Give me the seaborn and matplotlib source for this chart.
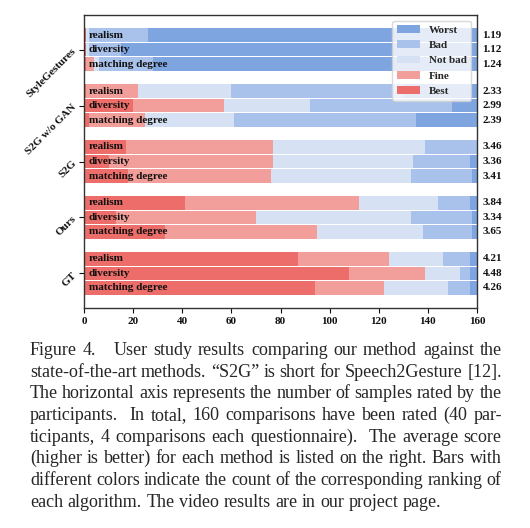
import numpy as np
import pandas as pd
import matplotlib
matplotlib.use('Agg')
import matplotlib.pyplot as plt
import matplotlib.transforms as mtransforms
import seaborn as sns

# Data (counts out of 160 comparisons)
methods = ['StyleGestures', 'S2G w/o GAN', 'S2G', 'Ours', 'GT']
aspects = ['realism', 'diversity', 'matching degree']
levels = ['Worst', 'Bad', 'Not bad', 'Fine', 'Best']

best    = [1, 1, 1,   1, 20, 2,   17, 10, 18,   41, 13, 33,   87, 108, 94]
fine    = [0, 0, 3,   21, 37, 23,  60, 67, 58,   71, 57, 62,   37, 31, 28]
not_bad = [1, 1, 2,   38, 35, 36,  62, 57, 57,   32, 63, 43,   22, 14, 26]
bad     = [24, 13, 22, 70, 58, 74, 21, 23, 25,   13, 25, 20,   11, 4, 9]
worst   = [134, 145, 132, 30, 10, 25, 0, 3, 2,   3, 2, 2,      3, 3, 3]
scores  = ['1.19', '1.12', '1.24', '2.33', '2.99', '2.39', '3.46', '3.36', '3.41',
           '3.84', '3.34', '3.65', '4.21', '4.48', '4.26']

colors = {'Worst': '#7FA5E0', 'Bad': '#A9C2EB', 'Not bad': '#D6E2F4',
          'Fine': '#F29E9A', 'Best': '#EC6D69'}

caption = [
    'Figure 4.   User study results comparing our method against the',
    'state-of-the-art methods. \u201cS2G\u201d is short for Speech2Gesture [12].',
    'The horizontal axis represents the number of samples rated by the',
    'participants.  In total, 160 comparisons have been rated (40 par-',
    'ticipants, 4 comparisons each questionnaire).  The average score',
    '(higher is better) for each method is listed on the right. Bars with',
    'different colors indicate the count of the corresponding ranking of',
    'each algorithm. The video results are in our project page.',
]

sns.set_style('ticks')
plt.rcParams['font.family'] = ['Liberation Serif', 'DejaVu Serif']

# long table: one row per bar, cumulative widths from the left
group_step = 3.86
rows = []
for g, m in enumerate(methods):
    for i, a in enumerate(aspects):
        k = g * 3 + i
        rows.append({'method': m, 'aspect': a, 'pos': g * group_step + i,
                     'Best': best[k], 'Fine': fine[k], 'Not bad': not_bad[k],
                     'Bad': bad[k], 'Worst': worst[k], 'score': scores[k]})
df = pd.DataFrame(rows)
df['cum_Best'] = df['Best']
df['cum_Fine'] = df['cum_Best'] + df['Fine']
df['cum_Not bad'] = df['cum_Fine'] + df['Not bad']
df['cum_Bad'] = df['cum_Not bad'] + df['Bad']
df['cum_Worst'] = df['cum_Bad'] + df['Worst']

fig = plt.figure(figsize=(5.3, 5.28), dpi=100)
ax = fig.add_axes([84 / 530, 1 - 308 / 528, 393 / 530, 293 / 528])

# stacked bars: draw widest cumulative first, narrower ones on top
for lev in levels:
    sns.barplot(data=df, x='cum_' + lev, y='pos', orient='h', native_scale=True,
                color=colors[lev], saturation=1, width=0.93, errorbar=None,
                label=lev, ax=ax, linewidth=0)

bold = dict(fontweight='bold', fontsize=8)
for _, r in df.iterrows():
    ax.text(2, r['pos'], r['aspect'], va='center', ha='left', color='#111111', **bold)

trans = mtransforms.blended_transform_factory(ax.transAxes, ax.transData)
for _, r in df.iterrows():
    ax.text(1.014, r['pos'], r['score'], va='center', ha='left', transform=trans,
            color='#111111', **bold)

ax.set_xlim(0, 160)
ax.set_xticks(np.arange(0, 161, 20))
top = df['pos'].max()
ax.set_ylim(top + 1.38, -1.38)
ax.set_yticks([g * group_step + 1 for g in range(len(methods))])
ax.set_yticklabels(methods, rotation=45, ha='right', va='center', rotation_mode='anchor')
ax.set_xlabel('')
ax.set_ylabel('')
for lab in ax.get_xticklabels() + ax.get_yticklabels():
    lab.set_fontweight('bold')
    lab.set_fontsize(8)
ax.tick_params(axis='both', length=3.5, width=0.8, pad=3, colors='#111111')
for s in ax.spines.values():
    s.set_visible(True)
    s.set_linewidth(1)
    s.set_color('#333333')

leg = ax.legend(loc='upper right', prop={'weight': 'bold', 'size': 8,
                'family': 'Liberation Serif'}, frameon=True, framealpha=0.8,
                edgecolor='#d0d0d0', fancybox=True, handlelength=2.1)

# caption, justified line by line
renderer = fig.canvas.get_renderer()
fsize = 13
x0, x1 = 30, 501.7
for n, line in enumerate(caption):
    words = line.split(' ')
    gaps = []
    clean = []
    w = 1.0
    for word in words:
        if word == '':
            w += 1.0
            continue
        if clean:
            gaps.append(w)
        clean.append(word)
        w = 1.0
    y = 1 - (355 + n * 21.67) / 528
    texts = [fig.text(0, y, word, fontsize=fsize, va='baseline', ha='left') for word in clean]
    widths = [t.get_window_extent(renderer).width for t in texts]
    if n == len(caption) - 1:
        unit = 0.25 * fsize * 100 / 72
    else:
        unit = (x1 - x0 - sum(widths)) / sum(gaps)
    x = x0
    for j, t in enumerate(texts):
        t.set_x(x / 530)
        x += widths[j]
        if j < len(gaps):
            x += gaps[j] * unit

fig.savefig('out.png', dpi=100)
